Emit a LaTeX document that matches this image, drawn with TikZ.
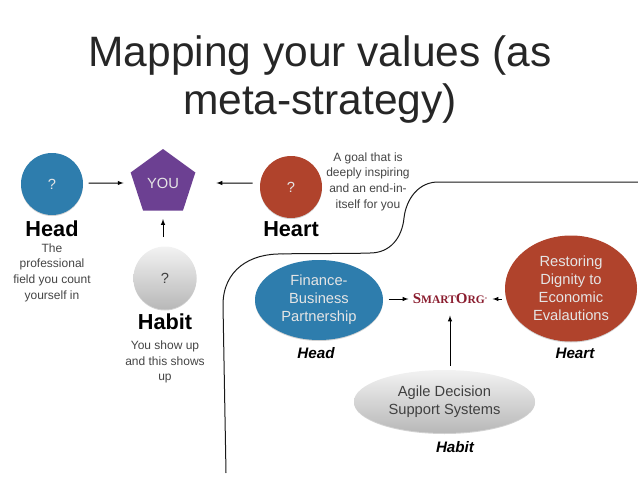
\documentclass[tikz,border=0pt]{standalone}
\usepackage{fontspec}
\setmainfont{Liberation Sans}
\newfontfamily\logofont{Liberation Serif}
\usetikzlibrary{positioning, shapes.geometric, shadows}
\definecolor{headblue}{HTML}{2E7DAD}
\definecolor{heartred}{HTML}{B0432C}
\definecolor{youpurple}{HTML}{6C4092}
\definecolor{logored}{HTML}{8A1C2E}
\definecolor{notegray}{HTML}{444444}

\begin{document}
\begin{tikzpicture}[x=1pt, y=-1pt,
    every path/.style={line width=1pt},
    blob/.style={ellipse, inner sep=0pt, align=center, text=white!90!black,
      font=\fontsize{14.7}{18}\selectfont,
      general shadow={fill=black!35, shadow yshift=-1pt, opacity=.5}},
    headblob/.style={blob, fill=headblue},
    heartblob/.style={blob, fill=heartred},
    habitblob/.style={blob, top color=black!5, bottom color=black!28, text=black!75},
    word/.style={font=\fontsize{21.7}{24}\bfseries\selectfont},
    tag/.style={font=\fontsize{15.2}{18}\bfseries\itshape\selectfont},
    note/.style={align=center, text=notegray, inner sep=0pt,
      font=\fontsize{12}{15.7}\selectfont},
    link/.style={-latex}]
  \useasboundingbox (0,0) rectangle (638,479);

  \node[align=center, text=black!85, font=\fontsize{42.5}{48}\selectfont] (title) at (320,80)
    {Mapping your values (as\\meta-strategy)};

  % left part
  \node[headblob, minimum size=62] (head) at (52,184) {?};
  \node[heartblob, minimum size=62] (heart) at (291,187) {?};
  \node[habitblob, minimum size=63] (habit) at (165,278) {?};
  \node[regular polygon, regular polygon sides=5, minimum size=68, inner sep=0pt,
    fill=youpurple, text=white!90!black, font=\fontsize{14.7}{18}\selectfont] (you) at (163,183) {YOU};

  \draw[link, shorten <=5pt, shorten >=10pt] (head.east |- you) -- (you);
  \draw[link, shorten <=7pt, shorten >=24pt] (heart.west |- you) -- (you);
  \draw[link, shorten <=9pt, shorten >=8pt] (habit.north -| you.south) -- (you.south);

  \node[word] (headword) at (52,229) {Head};
  \node[word] (heartword) at (291,229) {Heart};
  \node[word] (habitword) at (165,322) {Habit};

  \node[note] (headnote) at (52,272.5) {The\\professional\\field you count\\yourself in};
  \node[note] (habitnote) at (165,362) {You show up\\and this shows\\up};
  \node[note] (heartnote) at (368,181.5) {A goal that is\\deeply inspiring\\and an end-in-\\itself for you};

  % divider
  \draw[black!90] (638,182) -- (440,182)
    .. controls (418,181) and (406,200) .. (404,218)
    .. controls (402,238) and (390,253) .. (370,253)
    .. controls (340,254) and (310,253) .. (283,254)
    .. controls (250,253) and (223,270) .. (223,305)
    -- (226,473);

  % right part
  \node[headblob, minimum width=128, minimum height=80] (finance) at (319,300) {Finance-\\Business\\Partnership};
  \node[heartblob, minimum width=132, minimum height=106] (dignity) at (571,288.5) {Restoring\\Dignity to\\Economic\\Evalautions};
  \node[habitblob, minimum width=181, minimum height=63] (agile) at (444.5,401.5) {Agile Decision\\Support Systems};
  \node[inner sep=0pt, text=logored, font=\logofont\bfseries] (logo) at (450,299)
    {\fontsize{15}{15}\selectfont S\fontsize{11.5}{15}\selectfont MART\fontsize{15}{15}\selectfont O\fontsize{11.5}{15}\selectfont RG\raisebox{4pt}{\fontsize{3}{3}\selectfont ®}};

  \draw[link, shorten <=5pt, shorten >=4pt] (finance.east |- logo) -- (logo);
  \draw[link, shorten <=3pt, shorten >=5pt] (dignity.west |- logo) -- (logo);
  \draw[link, shorten <=4pt, shorten >=11pt] (agile.north -| logo.south) -- (logo.south);

  \node[tag] (financetag) at (316,353) {Head};
  \node[tag] (dignitytag) at (575,353) {Heart};
  \node[tag] (agiletag) at (455,447) {Habit};
\end{tikzpicture}
\end{document}
